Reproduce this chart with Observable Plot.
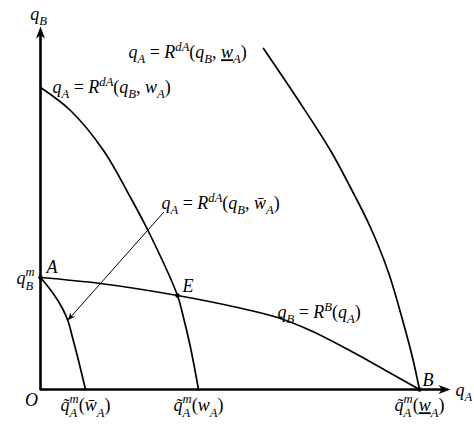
<!DOCTYPE html>
<html>
<head>
<meta charset="utf-8">
<script src="https://cdn.jsdelivr.net/npm/d3@7"></script>
<script src="https://cdn.jsdelivr.net/npm/@observablehq/plot@0.6"></script>
<style>
  html, body { margin: 0; padding: 0; background: white; }
  svg text { font-family: "Liberation Serif", serif; }
</style>
</head>
<body>
<script>
// Best response curve of B: q_B = R^B(q_A)
const brQA = [0, 60, 137, 197, 237, 270, 313, 347, 379];
const brQB = [112, 106, 94, 82, 72, 59, 37, 18, 0];
// q_A = R^dA(q_B, w_A)
const wQA = [0, 30, 63, 90, 108, 137, 142, 150, 158];
const wQB = [302, 279, 239, 192, 158, 94, 76, 42, 0];
// q_A = R^dA(q_B, w̄_A)
const wbarQA = [0, 12, 22, 28, 32, 38, 45];
const wbarQB = [112, 97, 81, 67, 52, 29, 0];
// q_A = R^dA(q_B, w̲_A)
const wlowQA = [223, 260, 290, 310, 330, 348, 363, 372, 379];
const wlowQB = [341, 286, 239, 202, 162, 117, 66, 32, 0];
// axis extents
const xAxisEnd = 410;
const yAxisEnd = 363;
// labels (markup: _{sub} ^{sup} [underlined])
const curveLabels = {
  br: "q_{B} = R^{B}(q_{A})",
  w: "q_{A} = R^{dA}(q_{B}, w_{A})",
  wbar: "q_{A} = R^{dA}(q_{B}, w\u0304_{A})",
  wlow: "q_{A} = R^{dA}(q_{B}, [w]_{A})"
};
const tickLabels = ["q\u0303_{A}^{m}(w\u0304_{A})", "q\u0303_{A}^{m}(w_{A})", "q\u0303_{A}^{m}([w]_{A})"];
const tickValues = [wbarQA[wbarQA.length - 1], wQA[wQA.length - 1], wlowQA[wlowQA.length - 1]];

const zip = (xs, ys) => xs.map((x, i) => ({x, y: ys[i]}));
const FS = 18;
const FONT = "Liberation Serif";
const lineOpts = {x: "x", y: "y", curve: "catmull-rom", stroke: "black", strokeWidth: 1.7};

const stealth = (L, W) => ({
  draw(ctx) {
    ctx.moveTo(0, 0);
    ctx.lineTo(W / 2, L);
    ctx.lineTo(0, L * 0.72);
    ctx.lineTo(-W / 2, L);
    ctx.closePath();
  }
});

const A = {x: brQA[0], y: brQB[0]};
const E = {x: brQA[2], y: brQB[2]};
const B = {x: brQA[brQA.length - 1], y: brQB[brQB.length - 1]};
const arrowFrom = {x: 123, y: 177};
const arrowTo = {x: 27, y: 69};
const arrowAngle = Math.atan2(arrowTo.x - arrowFrom.x, arrowTo.y - arrowFrom.y) * 180 / Math.PI;

const lbl = (x, y, text, opts = {}) =>
  Plot.text([{x, y, text}], {x: "x", y: "y", text: "text", fontSize: FS, fontFamily: FONT, fill: "black", textAnchor: "start", ...opts});

const chart = Plot.plot({
  width: 474,
  height: 424,
  marginLeft: 40,
  marginRight: 0,
  marginTop: 0,
  marginBottom: 35,
  x: {domain: [0, 434], axis: null},
  y: {domain: [0, 389], axis: null},
  style: {background: "white", fontFamily: FONT, color: "black"},
  marks: [
    // axes
    Plot.line([{x: 0, y: yAxisEnd - 9}, {x: 0, y: 0}, {x: xAxisEnd - 9, y: 0}], {x: "x", y: "y", stroke: "black", strokeWidth: 2.6}),
    Plot.dot([{x: 0, y: yAxisEnd}], {x: "x", y: "y", symbol: stealth(12, 9), fill: "black", stroke: "none", rotate: 0}),
    Plot.dot([{x: xAxisEnd, y: 0}], {x: "x", y: "y", symbol: stealth(12, 9), fill: "black", stroke: "none", rotate: 90}),
    // curves
    Plot.line(zip(brQA, brQB), lineOpts),
    Plot.line(zip(wQA, wQB), lineOpts),
    Plot.line(zip(wbarQA, wbarQB), lineOpts),
    Plot.line(zip(wlowQA, wlowQB), lineOpts),
    // pointer arrow
    Plot.line([arrowFrom, {x: arrowTo.x + 3, y: arrowTo.y + 3.3}], {x: "x", y: "y", stroke: "black", strokeWidth: 1}),
    Plot.dot([arrowTo], {x: "x", y: "y", symbol: stealth(8, 6), fill: "black", stroke: "none", rotate: arrowAngle}),
    // points
    Plot.dot([A, E, B], {x: "x", y: "y", r: 2.2, fill: "black", stroke: "none"}),
    // labels
    lbl(0, yAxisEnd + 12, "q_{B}", {textAnchor: "middle", dx: -2}),
    lbl(xAxisEnd, 0, "q_{A}", {dx: 5, dy: 1}),
    lbl(0, 0, "O", {textAnchor: "middle", dx: -9, dy: 11}),
    lbl(A.x, A.y, "q_{B}^{m}", {textAnchor: "end", dx: -6, dy: 1}),
    lbl(A.x, A.y, "A", {dx: 6, dy: -10}),
    lbl(E.x, E.y, "E", {dx: 5, dy: -9}),
    lbl(B.x, B.y, "B", {dx: 3, dy: -9}),
    lbl(wQA[0], wQB[0], curveLabels.w, {dx: 12, dy: 0}),
    lbl(88, 337, curveLabels.wlow),
    lbl(121, 186, curveLabels.wbar),
    lbl(237, 77, curveLabels.br),
    Plot.text(tickValues.map((v, i) => ({x: v, y: 0, text: tickLabels[i]})), {x: "x", y: "y", text: "text", fontSize: FS, fontFamily: FONT, fill: "black", textAnchor: "middle", dy: 16})
  ]
});

document.body.append(chart);

// --- render simple math markup into tspans ---
function parseMath(src) {
  const parts = [];
  let i = 0;
  while (i < src.length) {
    const c = src[i];
    if ((c === "_" || c === "^") && src[i + 1] === "{") {
      const j = src.indexOf("}", i);
      parts.push({t: src.slice(i + 2, j), mode: c === "_" ? "sub" : "sup"});
      i = j + 1;
    } else if (c === "[") {
      const j = src.indexOf("]", i);
      parts.push({t: src.slice(i + 1, j), mode: "base", ul: true});
      i = j + 1;
    } else {
      let j = i;
      while (j < src.length && !"_^[".includes(src[j])) j++;
      parts.push({t: src.slice(i, j), mode: "base"});
      i = j;
    }
  }
  return parts;
}
function runs(str) {
  const out = [];
  for (const ch of str) {
    const comb = /[\u0300-\u036f]/.test(ch);
    const it = comb ? (out.length ? out[out.length - 1].it : true) : /[A-Za-z]/.test(ch);
    if (out.length && out[out.length - 1].it === it) out[out.length - 1].t += ch;
    else out.push({t: ch, it});
  }
  return out;
}
function setMath(textEl, src) {
  const fs = FS;
  while (textEl.firstChild) textEl.removeChild(textEl.firstChild);
  const parts = parseMath(src);
  const stacked = /_\{[^}]*\}\^\{|\^\{[^}]*\}_\{/.test(src);
  const shift = {base: 0, sub: (stacked ? 0.32 : 0.26) * fs, sup: (stacked ? -0.46 : -0.4) * fs};
  let cur = 0;
  const groups = [];
  for (const p of parts) {
    const spans = [];
    for (const r of runs(p.t)) {
      const ts = document.createElementNS("http://www.w3.org/2000/svg", "tspan");
      ts.textContent = r.t;
      ts.setAttribute("font-style", r.it ? "italic" : "normal");
      if (p.mode !== "base") ts.setAttribute("font-size", (0.7 * fs).toFixed(1));
      const dy = shift[p.mode] - cur;
      if (dy !== 0) ts.setAttribute("dy", dy.toFixed(2));
      cur = shift[p.mode];
      if (p.ul) ts.setAttribute("text-decoration", "underline");
      textEl.appendChild(ts);
      spans.push(ts);
    }
    groups.push({mode: p.mode, spans});
  }
  // stack adjacent sub/sup
  const len = g => g.spans.reduce((s, t) => s + t.getComputedTextLength(), 0);
  for (let k = 0; k + 1 < groups.length; k++) {
    const g1 = groups[k], g2 = groups[k + 1];
    if ((g1.mode === "sub" && g2.mode === "sup") || (g1.mode === "sup" && g2.mode === "sub")) {
      const l1 = len(g1), l2 = len(g2);
      g2.spans[0].setAttribute("dx", (-l1).toFixed(2));
      const g3 = groups[k + 2];
      if (g3 && l1 > l2) g3.spans[0].setAttribute("dx", (l1 - l2).toFixed(2));
      k++;
    }
  }
}
d3.select(chart).selectAll("text").each(function () {
  this.setAttribute("font-family", FONT);
  const s = this.textContent;
  if (/[_^\[]/.test(s)) setMath(this, s);
  else if (/^[A-Za-z]$/.test(s)) this.setAttribute("font-style", "italic");
});
</script>
</body>
</html>
